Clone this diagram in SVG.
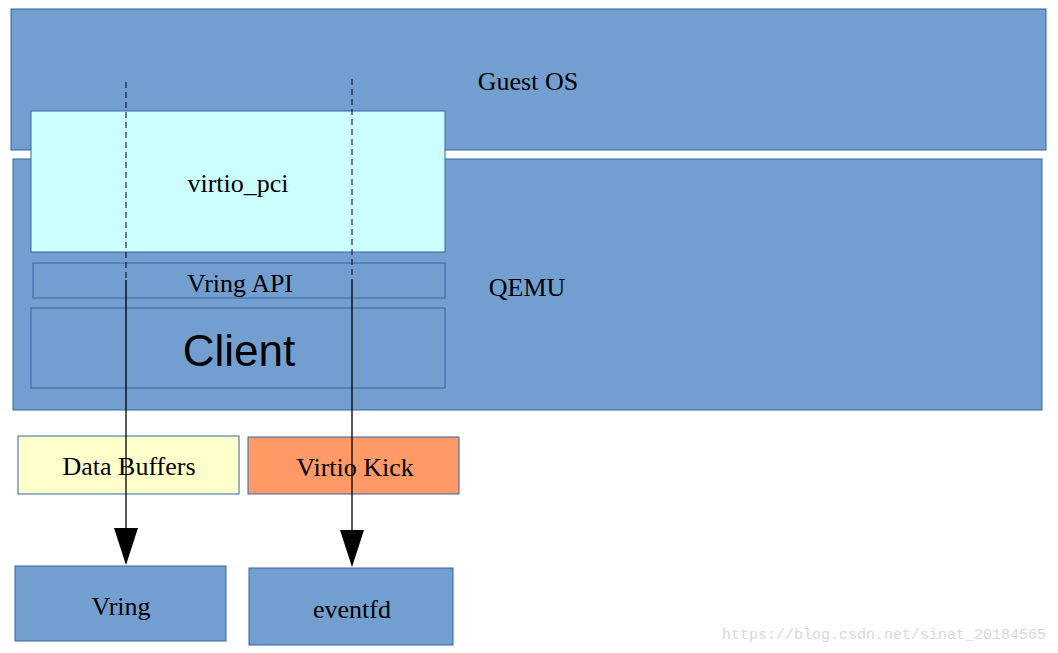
<svg xmlns="http://www.w3.org/2000/svg" width="1058" height="653" viewBox="0 0 1058 653">
<style>
.b{fill:#729fcf;stroke:#3465a4;stroke-width:1}
.t{font-family:"Liberation Serif",serif;font-size:26px;fill:#000;text-anchor:middle}
.d{stroke:#000;stroke-width:1;stroke-dasharray:6,4;fill:none}
.s{stroke:#000;stroke-width:1.3;fill:none}
</style>
<rect width="1058" height="653" fill="#fff"/>
<g id="guest"><rect class="b" x="11" y="9" width="1035" height="141"/><text class="t" x="528" y="90">Guest OS</text></g>
<g id="qemu"><rect class="b" x="13" y="159" width="1029" height="251"/><text class="t" x="527" y="296">QEMU</text></g>
<g id="virtio_pci"><rect x="31" y="111" width="414" height="141" fill="#ccffff" stroke="#3465a4"/><text class="t" x="238" y="192">virtio_pci</text></g>
<g id="vring_api"><rect class="b" x="33" y="263" width="412" height="35"/><text class="t" x="240" y="292">Vring API</text></g>
<g id="client"><rect class="b" x="31" y="308" width="414" height="80" stroke-width="2"/><text x="239" y="366" font-family="Liberation Sans,sans-serif" font-size="44" text-anchor="middle">Client</text></g>
<g id="data_buffers"><rect x="18" y="436" width="221" height="58" fill="#ffffcc" stroke="#3465a4"/><text class="t" x="129" y="475">Data Buffers</text></g>
<g id="virtio_kick"><rect x="248" y="437" width="211" height="57" fill="#ff9966" stroke="#3465a4"/><text class="t" x="355" y="476">Virtio Kick</text></g>
<g id="vring"><rect class="b" x="15" y="566" width="211" height="75"/><text class="t" x="121" y="615">Vring</text></g>
<g id="eventfd"><rect class="b" x="249" y="568" width="204" height="77"/><text class="t" x="352" y="618">eventfd</text></g>
<g id="connectors">
<line class="d" x1="126" y1="82" x2="126" y2="280"/>
<line class="s" x1="126" y1="280" x2="126" y2="530"/>
<polygon points="114,528 138,528 126,565"/>
<line class="d" x1="352" y1="79" x2="352" y2="280"/>
<line class="s" x1="352" y1="280" x2="352" y2="531"/>
<polygon points="340,530 364,530 352,567"/>
</g>
<text x="1046" y="639" font-family="Liberation Mono,monospace" font-size="15" fill="#d8d8d8" text-anchor="end">https://blog.csdn.net/sinat_20184565</text>
</svg>
